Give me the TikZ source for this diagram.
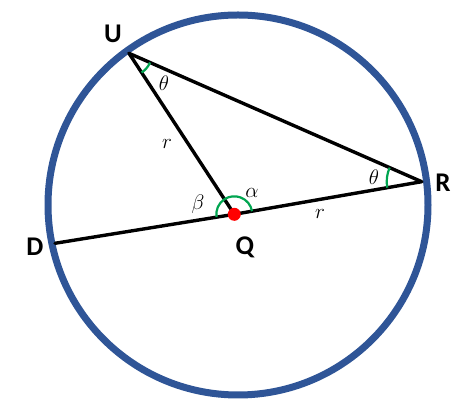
\documentclass[tikz,border=0pt]{standalone}
\usepackage{fontspec}
\usepackage{fix-cm}
\newfontfamily\lblfont{Carlito}
\usetikzlibrary{angles}
\definecolor{ringblue}{HTML}{2F5597}
\definecolor{arcgreen}{HTML}{00A550}
\tikzset{
  seg/.style={line width=3.4pt, line cap=round},
  ptlabel/.style={font=\lblfont\bfseries\fontsize{27}{27}\selectfont, inner sep=0pt},
  greek/.style={font=\fontsize{21}{21}\selectfont, inner sep=0pt},
  angarc/.style={draw=arcgreen, line width=2.2pt}
}
\begin{document}
\begin{tikzpicture}[x=1pt,y=1pt]
\useasboundingbox (0,0) rectangle (474,409);
\coordinate (C) at (238,204);
\coordinate (U) at (129,355.7);
\coordinate (R) at (421.7,227.3);
\coordinate (D) at (55,165.7);
\coordinate (Q) at (234.3,194.7);
\draw[ringblue, line width=7pt] (C) circle[radius=190];
\draw[seg] (U) -- (R);
\draw[seg] (U) -- (Q);
\draw[seg] (D) -- (Q) -- (R);
\pic[angarc, angle radius=23pt] {angle = Q--U--R};
\pic[angarc, angle radius=35pt] {angle = U--R--Q};
\pic[angarc, angle radius=18pt] {angle = R--Q--U};
\pic[angarc, angle radius=18pt] {angle = U--Q--D};
\fill[red] (Q) circle[radius=6.5pt];
\node[ptlabel] (lU) at (113,375) {U};
\node[ptlabel] (lR) at (443,226) {R};
\node[ptlabel] (lD) at (35,162) {D};
\node[ptlabel] (lQ) at (245,162) {Q};
\node[greek] (t1) at (164,326) {$\theta$};
\node[greek] (t2) at (374,232) {$\theta$};
\node[greek] (r1) at (167,265) {$r$};
\node[greek] (r2) at (320,195) {$r$};
\node[greek] (b1) at (198,205) {$\beta$};
\node[greek] (a1) at (252,216) {$\alpha$};
\end{tikzpicture}
\end{document}
